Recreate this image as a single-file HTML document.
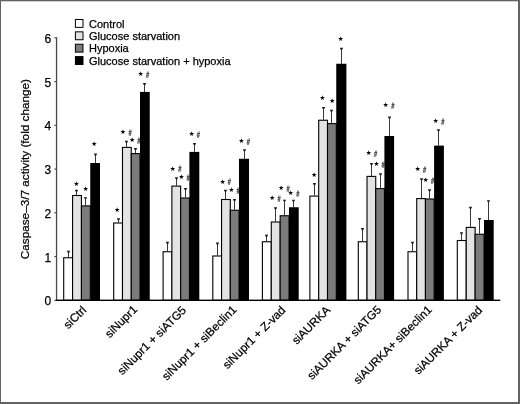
<!DOCTYPE html>
<html><head><meta charset="utf-8"><title>Caspase-3/7 activity</title>
<style>
html,body{margin:0;padding:0;background:#fff;}
body{width:520px;height:404px;overflow:hidden;position:relative;}
.t{font-family:"Liberation Sans",Arial,Helvetica,sans-serif;fill:#000;stroke:#000;stroke-width:0.25px;}
.s{font-family:"DejaVu Sans","Liberation Sans",sans-serif;fill:#000;}
.h{font-family:"DejaVu Sans","Liberation Sans",sans-serif;fill:#333;}
</style></head><body>
<svg width="520" height="404" viewBox="0 0 520 404" style="position:absolute;left:0;top:0;display:block">
<rect x="0" y="0" width="520" height="404" fill="#fff"/>
<rect x="75.4" y="19.46" width="7.6" height="7.9" fill="#ffffff" stroke="#000" stroke-width="1"/>
<text x="89" y="27.56" font-size="11" class="t">Control</text>
<rect x="75.4" y="31.84" width="7.6" height="7.9" fill="#e3e3e3" stroke="#000" stroke-width="1"/>
<text x="89" y="39.94" font-size="11" class="t">Glucose starvation</text>
<rect x="75.4" y="44.22" width="7.6" height="7.9" fill="#7b7b7b" stroke="#000" stroke-width="1"/>
<text x="89" y="52.32" font-size="11" class="t">Hypoxia</text>
<rect x="75.4" y="56.60" width="7.6" height="7.9" fill="#000000" stroke="#000" stroke-width="1"/>
<text x="89" y="64.70" font-size="11" class="t">Glucose starvation + hypoxia</text>
<rect x="55.9" y="37.20" width="1.3" height="263.70" fill="#4a4a4a"/>
<rect x="54.3" y="299.80" width="2.0" height="1.1" fill="#4a4a4a"/>
<text x="51.3" y="304.60" font-size="12" text-anchor="end" class="t">0</text>
<rect x="54.3" y="256.05" width="2.0" height="1.1" fill="#4a4a4a"/>
<text x="51.3" y="261.65" font-size="12" text-anchor="end" class="t">1</text>
<rect x="54.3" y="212.30" width="2.0" height="1.1" fill="#4a4a4a"/>
<text x="51.3" y="217.90" font-size="12" text-anchor="end" class="t">2</text>
<rect x="54.3" y="168.55" width="2.0" height="1.1" fill="#4a4a4a"/>
<text x="51.3" y="174.15" font-size="12" text-anchor="end" class="t">3</text>
<rect x="54.3" y="124.80" width="2.0" height="1.1" fill="#4a4a4a"/>
<text x="51.3" y="130.40" font-size="12" text-anchor="end" class="t">4</text>
<rect x="54.3" y="81.05" width="2.0" height="1.1" fill="#4a4a4a"/>
<text x="51.3" y="86.65" font-size="12" text-anchor="end" class="t">5</text>
<rect x="54.3" y="37.30" width="2.0" height="1.1" fill="#4a4a4a"/>
<text x="51.3" y="42.90" font-size="12" text-anchor="end" class="t">6</text>
<text transform="translate(29,169.1) rotate(-90)" font-size="11.75" text-anchor="middle" class="t">Caspase–3/7 activity (fold change)</text>
<text x="76.40" y="185.55" font-size="6.5" text-anchor="middle" class="s">★</text>
<text x="85.75" y="191.05" font-size="6.5" text-anchor="middle" class="s">★</text>
<text x="94.15" y="146.05" font-size="6.5" text-anchor="middle" class="s">★</text>
<text x="117.05" y="211.80" font-size="6.5" text-anchor="middle" class="s">★</text>
<text x="122.90" y="133.95" font-size="6.5" text-anchor="middle" class="s">★</text>
<text transform="translate(129.65,135.80) scale(0.55,1)" font-size="9" text-anchor="middle" font-style="italic" font-weight="bold" class="h">#</text>
<text x="132.05" y="141.65" font-size="6.5" text-anchor="middle" class="s">★</text>
<text transform="translate(138.40,143.55) scale(0.55,1)" font-size="9" text-anchor="middle" font-style="italic" font-weight="bold" class="h">#</text>
<text x="140.65" y="76.45" font-size="6.5" text-anchor="middle" class="s">★</text>
<text transform="translate(147.25,78.15) scale(0.55,1)" font-size="9" text-anchor="middle" font-style="italic" font-weight="bold" class="h">#</text>
<text x="172.65" y="170.55" font-size="6.5" text-anchor="middle" class="s">★</text>
<text transform="translate(179.40,172.30) scale(0.55,1)" font-size="9" text-anchor="middle" font-style="italic" font-weight="bold" class="h">#</text>
<text x="181.40" y="178.55" font-size="6.5" text-anchor="middle" class="s">★</text>
<text transform="translate(187.75,180.55) scale(0.55,1)" font-size="9" text-anchor="middle" font-style="italic" font-weight="bold" class="h">#</text>
<text x="191.65" y="135.80" font-size="6.5" text-anchor="middle" class="s">★</text>
<text transform="translate(198.05,137.70) scale(0.55,1)" font-size="9" text-anchor="middle" font-style="italic" font-weight="bold" class="h">#</text>
<text x="222.65" y="183.55" font-size="6.5" text-anchor="middle" class="s">★</text>
<text transform="translate(229.05,185.40) scale(0.55,1)" font-size="9" text-anchor="middle" font-style="italic" font-weight="bold" class="h">#</text>
<text x="231.40" y="191.80" font-size="6.5" text-anchor="middle" class="s">★</text>
<text transform="translate(237.75,193.70) scale(0.55,1)" font-size="9" text-anchor="middle" font-style="italic" font-weight="bold" class="h">#</text>
<text x="241.40" y="143.30" font-size="6.5" text-anchor="middle" class="s">★</text>
<text transform="translate(248.05,144.80) scale(0.55,1)" font-size="9" text-anchor="middle" font-style="italic" font-weight="bold" class="h">#</text>
<text x="272.05" y="200.45" font-size="6.5" text-anchor="middle" class="s">★</text>
<text transform="translate(278.75,201.80) scale(0.55,1)" font-size="9" text-anchor="middle" font-style="italic" font-weight="bold" class="h">#</text>
<text x="281.05" y="190.15" font-size="6.5" text-anchor="middle" class="s">★</text>
<text transform="translate(287.75,192.05) scale(0.55,1)" font-size="9" text-anchor="middle" font-style="italic" font-weight="bold" class="h">#</text>
<text x="290.75" y="194.95" font-size="6.5" text-anchor="middle" class="s">★</text>
<text transform="translate(297.40,196.70) scale(0.55,1)" font-size="9" text-anchor="middle" font-style="italic" font-weight="bold" class="h">#</text>
<text x="314.25" y="177.05" font-size="6.5" text-anchor="middle" class="s">★</text>
<text x="322.40" y="99.55" font-size="6.5" text-anchor="middle" class="s">★</text>
<text x="332.05" y="102.65" font-size="6.5" text-anchor="middle" class="s">★</text>
<text x="340.75" y="40.80" font-size="6.5" text-anchor="middle" class="s">★</text>
<text x="368.65" y="154.95" font-size="6.5" text-anchor="middle" class="s">★</text>
<text transform="translate(375.25,156.80) scale(0.55,1)" font-size="9" text-anchor="middle" font-style="italic" font-weight="bold" class="h">#</text>
<text x="376.40" y="165.80" font-size="6.5" text-anchor="middle" class="s">★</text>
<text transform="translate(382.75,167.70) scale(0.55,1)" font-size="9" text-anchor="middle" font-style="italic" font-weight="bold" class="h">#</text>
<text x="385.75" y="106.80" font-size="6.5" text-anchor="middle" class="s">★</text>
<text transform="translate(392.55,108.55) scale(0.55,1)" font-size="9" text-anchor="middle" font-style="italic" font-weight="bold" class="h">#</text>
<text x="417.65" y="171.45" font-size="6.5" text-anchor="middle" class="s">★</text>
<text transform="translate(424.25,173.30) scale(0.55,1)" font-size="9" text-anchor="middle" font-style="italic" font-weight="bold" class="h">#</text>
<text x="425.75" y="182.05" font-size="6.5" text-anchor="middle" class="s">★</text>
<text transform="translate(432.15,183.90) scale(0.55,1)" font-size="9" text-anchor="middle" font-style="italic" font-weight="bold" class="h">#</text>
<text x="435.75" y="123.05" font-size="6.5" text-anchor="middle" class="s">★</text>
<text transform="translate(442.55,124.80) scale(0.55,1)" font-size="9" text-anchor="middle" font-style="italic" font-weight="bold" class="h">#</text>
<rect x="68" y="251.60" width="1" height="5.65" fill="#383838"/>
<path d="M66.85 250.85h3.3l-0.9 1.9h-1.5z" fill="#1a1a1a"/>
<rect x="63.70" y="257.75" width="8.87" height="42.55" fill="#ffffff" stroke="#000" stroke-width="1.1"/>
<rect x="76" y="190.60" width="1" height="4.40" fill="#383838"/>
<path d="M74.85 189.85h3.3l-0.9 1.9h-1.5z" fill="#1a1a1a"/>
<rect x="72.57" y="195.50" width="8.87" height="104.80" fill="#e3e3e3" stroke="#000" stroke-width="1.1"/>
<rect x="85" y="197.90" width="1" height="7.50" fill="#383838"/>
<path d="M83.85 197.15h3.3l-0.9 1.9h-1.5z" fill="#1a1a1a"/>
<rect x="81.43" y="205.90" width="8.87" height="94.40" fill="#7b7b7b" stroke="#000" stroke-width="1.1"/>
<rect x="95" y="154.25" width="1" height="8.75" fill="#383838"/>
<path d="M93.85 153.50h3.3l-0.9 1.9h-1.5z" fill="#1a1a1a"/>
<rect x="90.25" y="163.00" width="9.75" height="137.30" fill="#000"/>
<text transform="translate(87.00,310.80) rotate(-45)" font-size="11.65" text-anchor="end" class="t">siCtrl</text>
<rect x="118" y="219.00" width="1" height="3.50" fill="#383838"/>
<path d="M116.85 218.25h3.3l-0.9 1.9h-1.5z" fill="#1a1a1a"/>
<rect x="113.70" y="223.00" width="8.78" height="77.30" fill="#ffffff" stroke="#000" stroke-width="1.1"/>
<rect x="126" y="141.50" width="1" height="5.40" fill="#383838"/>
<path d="M124.85 140.75h3.3l-0.9 1.9h-1.5z" fill="#1a1a1a"/>
<rect x="122.48" y="147.40" width="8.78" height="152.90" fill="#e3e3e3" stroke="#000" stroke-width="1.1"/>
<rect x="135" y="148.75" width="1" height="4.35" fill="#383838"/>
<path d="M133.85 148.00h3.3l-0.9 1.9h-1.5z" fill="#1a1a1a"/>
<rect x="131.27" y="153.60" width="8.78" height="146.70" fill="#7b7b7b" stroke="#000" stroke-width="1.1"/>
<rect x="144" y="83.75" width="1" height="8.15" fill="#383838"/>
<path d="M142.85 83.00h3.3l-0.9 1.9h-1.5z" fill="#1a1a1a"/>
<rect x="140.00" y="91.90" width="9.75" height="208.40" fill="#000"/>
<text transform="translate(138.00,310.05) rotate(-45)" font-size="11.65" text-anchor="end" class="t">siNupr1</text>
<rect x="167" y="242.50" width="1" height="8.75" fill="#383838"/>
<path d="M165.85 241.75h3.3l-0.9 1.9h-1.5z" fill="#1a1a1a"/>
<rect x="163.10" y="251.75" width="8.78" height="48.55" fill="#ffffff" stroke="#000" stroke-width="1.1"/>
<rect x="176" y="178.10" width="1" height="7.50" fill="#383838"/>
<path d="M174.85 177.35h3.3l-0.9 1.9h-1.5z" fill="#1a1a1a"/>
<rect x="171.88" y="186.10" width="8.78" height="114.20" fill="#e3e3e3" stroke="#000" stroke-width="1.1"/>
<rect x="185" y="188.75" width="1" height="8.75" fill="#383838"/>
<path d="M183.85 188.00h3.3l-0.9 1.9h-1.5z" fill="#1a1a1a"/>
<rect x="180.67" y="198.00" width="8.78" height="102.30" fill="#7b7b7b" stroke="#000" stroke-width="1.1"/>
<rect x="194" y="143.75" width="1" height="8.15" fill="#383838"/>
<path d="M192.85 143.00h3.3l-0.9 1.9h-1.5z" fill="#1a1a1a"/>
<rect x="189.40" y="151.90" width="9.90" height="148.40" fill="#000"/>
<text transform="translate(186.90,310.80) rotate(-45)" font-size="11.65" text-anchor="end" class="t">siNupr1 + siATG5</text>
<rect x="217" y="243.25" width="1" height="12.25" fill="#383838"/>
<path d="M215.85 242.50h3.3l-0.9 1.9h-1.5z" fill="#1a1a1a"/>
<rect x="212.80" y="256.00" width="8.75" height="44.30" fill="#ffffff" stroke="#000" stroke-width="1.1"/>
<rect x="225" y="190.60" width="1" height="8.40" fill="#383838"/>
<path d="M223.85 189.85h3.3l-0.9 1.9h-1.5z" fill="#1a1a1a"/>
<rect x="221.55" y="199.50" width="8.75" height="100.80" fill="#e3e3e3" stroke="#000" stroke-width="1.1"/>
<rect x="234" y="199.75" width="1" height="10.00" fill="#383838"/>
<path d="M232.85 199.00h3.3l-0.9 1.9h-1.5z" fill="#1a1a1a"/>
<rect x="230.30" y="210.25" width="8.75" height="90.05" fill="#7b7b7b" stroke="#000" stroke-width="1.1"/>
<rect x="244" y="150.00" width="1" height="8.75" fill="#383838"/>
<path d="M242.85 149.25h3.3l-0.9 1.9h-1.5z" fill="#1a1a1a"/>
<rect x="239.00" y="158.75" width="10.00" height="141.55" fill="#000"/>
<text transform="translate(237.35,310.30) rotate(-45)" font-size="11.65" text-anchor="end" class="t">siNupr1 + siBeclin1</text>
<rect x="266" y="235.50" width="1" height="5.75" fill="#383838"/>
<path d="M264.85 234.75h3.3l-0.9 1.9h-1.5z" fill="#1a1a1a"/>
<rect x="262.40" y="241.75" width="8.88" height="58.55" fill="#ffffff" stroke="#000" stroke-width="1.1"/>
<rect x="275" y="208.10" width="1" height="13.40" fill="#383838"/>
<path d="M273.85 207.35h3.3l-0.9 1.9h-1.5z" fill="#1a1a1a"/>
<rect x="271.28" y="222.00" width="8.88" height="78.30" fill="#e3e3e3" stroke="#000" stroke-width="1.1"/>
<rect x="284" y="200.40" width="1" height="14.85" fill="#383838"/>
<path d="M282.85 199.65h3.3l-0.9 1.9h-1.5z" fill="#1a1a1a"/>
<rect x="280.17" y="215.75" width="8.88" height="84.55" fill="#7b7b7b" stroke="#000" stroke-width="1.1"/>
<rect x="293" y="200.40" width="1" height="6.85" fill="#383838"/>
<path d="M291.85 199.65h3.3l-0.9 1.9h-1.5z" fill="#1a1a1a"/>
<rect x="289.00" y="207.25" width="9.70" height="93.05" fill="#000"/>
<text transform="translate(286.20,310.80) rotate(-45)" font-size="11.65" text-anchor="end" class="t">siNupr1 + Z-vad</text>
<rect x="314" y="183.75" width="1" height="11.85" fill="#383838"/>
<path d="M312.85 183.00h3.3l-0.9 1.9h-1.5z" fill="#1a1a1a"/>
<rect x="309.90" y="196.10" width="8.80" height="104.20" fill="#ffffff" stroke="#000" stroke-width="1.1"/>
<rect x="323" y="107.75" width="1" height="12.00" fill="#383838"/>
<path d="M321.85 107.00h3.3l-0.9 1.9h-1.5z" fill="#1a1a1a"/>
<rect x="318.70" y="120.25" width="8.80" height="180.05" fill="#e3e3e3" stroke="#000" stroke-width="1.1"/>
<rect x="331" y="110.60" width="1" height="12.50" fill="#383838"/>
<path d="M329.85 109.85h3.3l-0.9 1.9h-1.5z" fill="#1a1a1a"/>
<rect x="327.50" y="123.60" width="8.80" height="176.70" fill="#7b7b7b" stroke="#000" stroke-width="1.1"/>
<rect x="341" y="48.50" width="1" height="15.25" fill="#383838"/>
<path d="M339.85 47.75h3.3l-0.9 1.9h-1.5z" fill="#1a1a1a"/>
<rect x="336.25" y="63.75" width="10.15" height="236.55" fill="#000"/>
<text transform="translate(330.95,310.80) rotate(-45)" font-size="11.65" text-anchor="end" class="t">siAURKA</text>
<rect x="362" y="228.75" width="1" height="12.50" fill="#383838"/>
<path d="M360.85 228.00h3.3l-0.9 1.9h-1.5z" fill="#1a1a1a"/>
<rect x="358.30" y="241.75" width="8.72" height="58.55" fill="#ffffff" stroke="#000" stroke-width="1.1"/>
<rect x="371" y="163.75" width="1" height="12.15" fill="#383838"/>
<path d="M369.85 163.00h3.3l-0.9 1.9h-1.5z" fill="#1a1a1a"/>
<rect x="367.02" y="176.40" width="8.72" height="123.90" fill="#e3e3e3" stroke="#000" stroke-width="1.1"/>
<rect x="380" y="174.10" width="1" height="14.00" fill="#383838"/>
<path d="M378.85 173.35h3.3l-0.9 1.9h-1.5z" fill="#1a1a1a"/>
<rect x="375.73" y="188.60" width="8.72" height="111.70" fill="#7b7b7b" stroke="#000" stroke-width="1.1"/>
<rect x="389" y="117.25" width="1" height="18.75" fill="#383838"/>
<path d="M387.85 116.50h3.3l-0.9 1.9h-1.5z" fill="#1a1a1a"/>
<rect x="384.40" y="136.00" width="9.70" height="164.30" fill="#000"/>
<text transform="translate(382.10,310.30) rotate(-45)" font-size="11.65" text-anchor="end" class="t">siAURKA + siATG5</text>
<rect x="412" y="242.50" width="1" height="8.75" fill="#383838"/>
<path d="M410.85 241.75h3.3l-0.9 1.9h-1.5z" fill="#1a1a1a"/>
<rect x="408.00" y="251.75" width="8.72" height="48.55" fill="#ffffff" stroke="#000" stroke-width="1.1"/>
<rect x="421" y="179.00" width="1" height="19.10" fill="#383838"/>
<path d="M419.85 178.25h3.3l-0.9 1.9h-1.5z" fill="#1a1a1a"/>
<rect x="416.72" y="198.60" width="8.72" height="101.70" fill="#e3e3e3" stroke="#000" stroke-width="1.1"/>
<rect x="429" y="190.00" width="1" height="8.50" fill="#383838"/>
<path d="M427.85 189.25h3.3l-0.9 1.9h-1.5z" fill="#1a1a1a"/>
<rect x="425.43" y="199.00" width="8.72" height="101.30" fill="#7b7b7b" stroke="#000" stroke-width="1.1"/>
<rect x="438" y="130.00" width="1" height="15.60" fill="#383838"/>
<path d="M436.85 129.25h3.3l-0.9 1.9h-1.5z" fill="#1a1a1a"/>
<rect x="434.10" y="145.60" width="9.80" height="154.70" fill="#000"/>
<text transform="translate(432.55,310.30) rotate(-45)" font-size="11.65" text-anchor="end" class="t">siAURKA+ siBeclin1</text>
<rect x="461" y="233.10" width="1" height="6.90" fill="#383838"/>
<path d="M459.85 232.35h3.3l-0.9 1.9h-1.5z" fill="#1a1a1a"/>
<rect x="457.30" y="240.50" width="8.92" height="59.80" fill="#ffffff" stroke="#000" stroke-width="1.1"/>
<rect x="470" y="207.50" width="1" height="19.40" fill="#383838"/>
<path d="M468.85 206.75h3.3l-0.9 1.9h-1.5z" fill="#1a1a1a"/>
<rect x="466.22" y="227.40" width="8.92" height="72.90" fill="#e3e3e3" stroke="#000" stroke-width="1.1"/>
<rect x="479" y="218.75" width="1" height="15.00" fill="#383838"/>
<path d="M477.85 218.00h3.3l-0.9 1.9h-1.5z" fill="#1a1a1a"/>
<rect x="475.13" y="234.25" width="8.92" height="66.05" fill="#7b7b7b" stroke="#000" stroke-width="1.1"/>
<rect x="488" y="200.90" width="1" height="19.10" fill="#383838"/>
<path d="M486.85 200.15h3.3l-0.9 1.9h-1.5z" fill="#1a1a1a"/>
<rect x="484.00" y="220.00" width="9.70" height="80.30" fill="#000"/>
<text transform="translate(482.85,310.80) rotate(-45)" font-size="11.65" text-anchor="end" class="t">siAURKA + Z-vad</text>
<rect x="55.9" y="299.60" width="444.4" height="1.4" fill="#000"/>
<rect x="0" y="0" width="520" height="1.3" fill="#636363"/>
<rect x="0" y="0" width="1" height="404" fill="#636363"/>
<rect x="518" y="0" width="2" height="404" fill="#636363"/>
<rect x="0" y="402" width="520" height="2" fill="#636363"/>
</svg>
</body></html>
